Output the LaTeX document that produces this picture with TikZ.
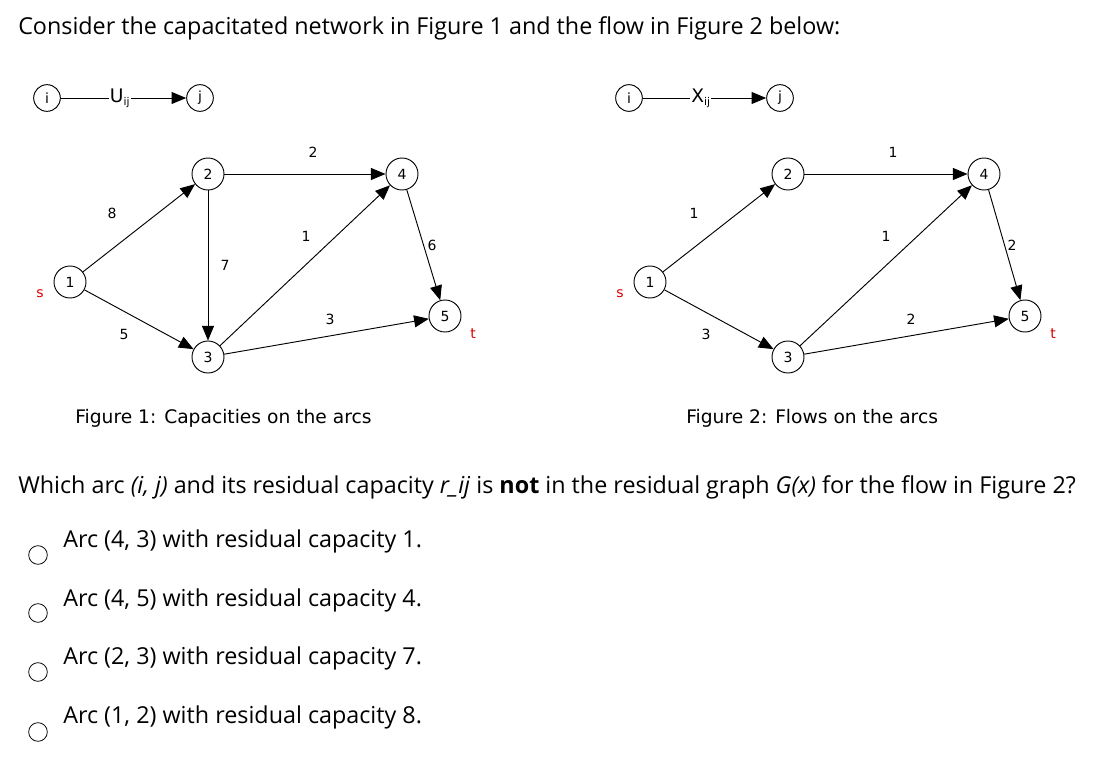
\documentclass[tikz,border=0pt]{standalone}
\usepackage{fontspec}
\setmainfont{Open Sans}
\newfontfamily\dv{DejaVu Sans}
\usetikzlibrary{arrows.meta}
\begin{document}
\begin{tikzpicture}[x=0.75pt,y=-0.75pt,
  vtx/.style={circle,draw,line width=0.7pt,minimum size=24pt,inner sep=0pt,font=\dv\fontsize{10.5}{11}\selectfont},
  arc/.style={draw,line width=0.7pt,-{Triangle[length=11pt,width=9pt]}},
  lab/.style={font=\dv\fontsize{10.5}{11}\selectfont},
  stlab/.style={text=red!85!black,font=\dv\fontsize{10.5}{11}\selectfont},
  txt/.style={anchor=west,inner sep=0pt,font=\fontsize{17.5}{19}\selectfont},
  capt/.style={anchor=west,inner sep=0pt,font=\dv\fontsize{14}{15}\selectfont},
  radio/.style={circle,draw,line width=0.6pt,minimum size=14pt,inner sep=0pt}]
\useasboundingbox (0,0) rectangle (1108,771);
\node[txt] (title) at (18,28) {Consider the capacitated network in Figure 1 and the flow in Figure 2 below:};
% Figure 1
\node[vtx,minimum size=20pt] (li) at (47,98) {i};
\node[vtx,minimum size=20pt] (lj) at (200,98) {j};
\draw[arc] (li) -- (lj) node[pos=0.47,fill=white,inner sep=1pt,font=\dv\fontsize{14}{14}\selectfont] {U\raisebox{-2pt}{\fontsize{8}{8}\selectfont ij}};
\node[vtx] (a1) at (70,282) {1};
\node[vtx] (a2) at (208,174) {2};
\node[vtx] (a3) at (208,357) {3};
\node[vtx] (a4) at (402,174) {4};
\node[vtx] (a5) at (445,316) {5};
\node[stlab] (as) at (40,294) {s};
\node[stlab] (at) at (473,334) {t};
\draw[arc] (a1) -- (a2);
\draw[arc] (a1) -- (a3);
\draw[arc] (a2) -- (a4);
\draw[arc] (a2) -- (a3);
\draw[arc] (a3) -- (a4);
\draw[arc] (a3) -- (a5);
\draw[arc] (a4) -- (a5);
\node[lab] (c12) at (112,213) {8};
\node[lab] (c24) at (313,152) {2};
\node[lab] (c23) at (225,265) {7};
\node[lab] (c34) at (306,236) {1};
\node[lab] (c45) at (432,245) {6};
\node[lab] (c13) at (124,334) {5};
\node[lab] (c35) at (330,319) {3};
\node[capt] (cap1) at (75,418) {Figure 1: Capacities on the arcs};
% Figure 2
\node[vtx,minimum size=20pt] (mi) at (629,98) {i};
\node[vtx,minimum size=20pt] (mj) at (780,98) {j};
\draw[arc] (mi) -- (mj) node[pos=0.47,fill=white,inner sep=1pt,font=\dv\fontsize{14}{14}\selectfont] {X\raisebox{-2pt}{\fontsize{8}{8}\selectfont ij}};
\node[vtx] (b1) at (650,282) {1};
\node[vtx] (b2) at (788,174) {2};
\node[vtx] (b3) at (788,357) {3};
\node[vtx] (b4) at (984,174) {4};
\node[vtx] (b5) at (1025,316) {5};
\node[stlab] (bs) at (620,294) {s};
\node[stlab] (bt) at (1053,334) {t};
\draw[arc] (b1) -- (b2);
\draw[arc] (b1) -- (b3);
\draw[arc] (b2) -- (b4);
\draw[arc] (b3) -- (b4);
\draw[arc] (b3) -- (b5);
\draw[arc] (b4) -- (b5);
\node[lab] (f12) at (694,213) {1};
\node[lab] (f24) at (893,152) {1};
\node[lab] (f34) at (886,236) {1};
\node[lab] (f45) at (1012,245) {2};
\node[lab] (f13) at (706,334) {3};
\node[lab] (f35) at (911,319) {2};
\node[capt] (cap2) at (686,418) {Figure 2: Flows on the arcs};
% question
\node[txt] (q) at (18,487) {Which arc \emph{(i, j)} and its residual capacity \emph{r\_ij} is \textbf{not} in the residual graph \emph{G(x)} for the flow in Figure 2?};
\node[txt] (o1) at (63,541) {Arc (4, 3) with residual capacity 1.};
\node[txt] (o2) at (63,600) {Arc (4, 5) with residual capacity 4.};
\node[txt] (o3) at (63,658) {Arc (2, 3) with residual capacity 7.};
\node[txt] (o4) at (63,717) {Arc (1, 2) with residual capacity 8.};
\node[radio] (r1) at (38,555) {};
\node[radio] (r2) at (38,613) {};
\node[radio] (r3) at (38,672) {};
\node[radio] (r4) at (38,732) {};
\end{tikzpicture}
\end{document}
